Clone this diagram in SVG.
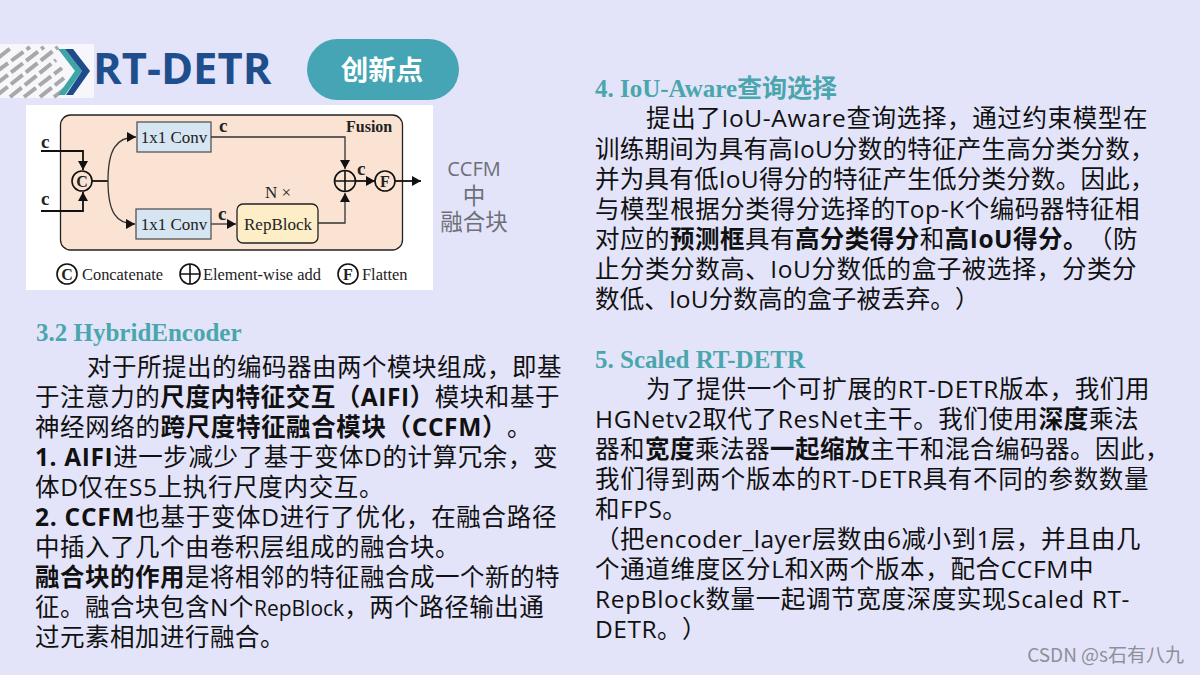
<svg xmlns="http://www.w3.org/2000/svg" width="1200" height="675" viewBox="0 0 1200 675">
<style>
text{text-spacing-trim:space-all}
.b{font-family:"Open Sans","Noto Sans CJK SC",sans-serif;font-size:24.500px;letter-spacing:.5px;fill:#111}
.b tspan{font-weight:700}
.b tspan.sm{font-weight:400;font-size:21px;letter-spacing:0}
.h{font-family:"Liberation Serif","Noto Sans CJK SC",serif;font-size:25px;font-weight:700;fill:#4aa6ad}
.f{font-family:"Liberation Serif",serif;fill:#222;font-size:17px}
.fl{font-family:"Liberation Serif",serif;fill:#222;font-size:16.400px}
.fb{font-family:"Liberation Serif",serif;fill:#222;font-size:16px;font-weight:700}
.c{font-family:"Liberation Serif",serif;fill:#222;font-size:19px;font-weight:700}
.l{fill:none;stroke:#333;stroke-width:1.3}
.t{fill:none;stroke:#111;stroke-width:1.8}
.o{fill:none;stroke:#111;stroke-width:1.6}
.g{font-family:"Liberation Sans","Noto Sans CJK SC",sans-serif;font-size:22.500px;fill:#6d7078;text-anchor:middle}
.s{stroke:#a8a8a8;stroke-width:4;stroke-dasharray:15 4;fill:none}
</style>
<defs>
<marker id="a" markerUnits="userSpaceOnUse" markerWidth="12" markerHeight="12" refX="10" refY="6" orient="auto"><path d="M1 1 10 6 1 11z" fill="#111"/></marker>
</defs>
<rect width="1200" height="675" fill="#e3e4f9"/>
<g id="logo">
<rect x="0" y="44" width="94" height="54" fill="#f6f6fb"/>
<path class="s" d="M-2 58 12 47M-4 72 30 47M-4 84 44 47M-4 96 58 47M10 97 56 60M24 97 62 68M40 97 64 78M54 97 66 88"/>
<path d="M58 49H65L82 71 65 95H58L75 71z" fill="#3da5a6"/>
<path d="M65 49H73L90 71 73 95H66L82 71z" fill="#1f4a8c"/>
</g>
<text id="title" x="93" y="84" font-family="Open Sans,sans-serif" font-size="43.500" font-weight="700" fill="#1f4e8c">RT-DETR</text>
<g id="badge">
<rect x="307" y="39" width="152" height="61" rx="30.5" fill="#45a5b5"/>
<text x="382" y="80" text-anchor="middle" font-family="Noto Sans CJK SC,sans-serif" font-size="27.500" font-weight="700" fill="#fff">创新点</text>
</g>
<g id="figure">
<rect x="26" y="105" width="407" height="185" fill="#fff"/>
<rect x="60.500" y="115" width="342" height="135" rx="10" fill="#fbe3d3" stroke="#222" stroke-width="1.300"/>
<text class="fb" x="346" y="132">Fusion</text>
</g>
<g id="conv1"><rect x="137" y="122" width="74" height="30" fill="#d6e5f2" stroke="#555" stroke-width="1.300"/><text class="f" x="174" y="143" text-anchor="middle">1x1 Conv</text></g>
<g id="conv2"><rect x="136" y="209" width="75" height="30" fill="#d6e5f2" stroke="#555" stroke-width="1.300"/><text class="f" x="174" y="230" text-anchor="middle">1x1 Conv</text></g>
<g id="repblock"><rect x="237" y="204" width="81" height="39" rx="6" fill="#fdeec8" stroke="#222" stroke-width="1.300"/><text class="f" x="278" y="230" text-anchor="middle">RepBlock</text></g>
<g id="concat"><circle cx="82" cy="181" r="10" fill="none" stroke="#111" stroke-width="1.600"/><text class="fb" x="82" y="187" text-anchor="middle">C</text></g>
<g id="add"><circle cx="345" cy="181" r="10.500" class="o"/><path class="o" d="M334.500 181H355.500M345 170.500V191.500"/></g>
<g id="flatten"><circle cx="385" cy="181" r="10" class="o"/><text class="fb" x="385" y="187" text-anchor="middle">F</text></g>
<g id="connectors">
<path class="t" marker-end="url(#a)" d="M41 151H83V170"/>
<path class="t" marker-end="url(#a)" d="M41 211H83V192"/>
<path class="t" d="M92 181H108"/>
<path class="l" marker-end="url(#a)" d="M108 181C108 150 116 137 136 137"/>
<path class="l" marker-end="url(#a)" d="M108 181C108 212 116 224 135 224"/>
<path class="l" marker-end="url(#a)" d="M211 137H345V169"/>
<path class="l" marker-end="url(#a)" d="M211 224H236"/>
<path class="l" marker-end="url(#a)" d="M318 223H345V193"/>
<path class="t" marker-end="url(#a)" d="M356 181H375"/>
<path class="t" marker-end="url(#a)" d="M395 181H421"/>
</g>
<g id="figure-labels">
<text class="c" x="41" y="148">c</text>
<text class="c" x="41" y="205">c</text>
<text class="c" x="219" y="132">c</text>
<text class="c" x="218" y="220">c</text>
<text class="c" x="357" y="175">c</text>
<text class="f" x="265" y="198">N ×</text>
<circle cx="67" cy="274" r="10" class="o"/><text class="fb" x="67" y="280" text-anchor="middle">C</text>
<text class="fl" x="82" y="280">Concatenate</text>
<circle cx="190" cy="274" r="10" class="o"/><path class="o" d="M180 274H200M190 264V284"/>
<text class="fl" x="203" y="280">Element-wise add</text>
<circle cx="348" cy="274" r="10" class="o"/><text class="fb" x="348" y="280" text-anchor="middle">F</text>
<text class="fl" x="362" y="280">Flatten</text>
</g>
<g id="ccfm-note" class="g">
<text x="474" y="176" style="font-size:20px;font-family:'Open Sans',sans-serif">CCFM</text><text x="474" y="204">中</text><text x="474" y="230">融合块</text>
</g>
<g id="left-text">
<text class="h" x="36" y="341">3.2 HybridEncoder</text>
<text class="b" x="87" y="376">对于所提出的编码器由两个模块组成，即基</text>
<text class="b" x="35" y="406" textLength="525">于注意力的<tspan>尺度内特征交互（AIFI）</tspan>模块和基于</text>
<text class="b" x="35" y="436" textLength="497">神经网络的<tspan>跨尺度特征融合模块（CCFM）</tspan>。</text>
<text class="b" x="35" y="466" textLength="523"><tspan>1. AIFI</tspan>进一步减少了基于变体D的计算冗余，变</text>
<text class="b" x="35" y="496" textLength="349">体D仅在S5上执行尺度内交互。</text>
<text class="b" x="35" y="526" textLength="522"><tspan>2. CCFM</tspan>也基于变体D进行了优化，在融合路径</text>
<text class="b" x="35" y="556">中插入了几个由卷积层组成的融合块。</text>
<text class="b" x="35" y="586"><tspan>融合块的作用</tspan>是将相邻的特征融合成一个新的特</text>
<text class="b" x="35" y="616">征。融合块包含N个<tspan class="sm">RepBlock</tspan>，两个路径输出通</text>
<text class="b" x="35" y="646">过元素相加进行融合。</text>
</g>
<g id="right-text">
<text class="h" x="595" y="97">4. IoU-Aware查询选择</text>
<text class="b" x="646" y="127" textLength="502">提出了IoU-Aware查询选择，通过约束模型在</text>
<text class="b" x="595" y="158" textLength="560">训练期间为具有高IoU分数的特征产生高分类分数，</text>
<text class="b" x="595" y="188" textLength="560">并为具有低IoU得分的特征产生低分类分数。因此，</text>
<text class="b" x="595" y="218" textLength="545">与模型根据分类得分选择的Top-K个编码器特征相</text>
<text class="b" x="595" y="248" textLength="543">对应的<tspan>预测框</tspan>具有<tspan>高分类得分</tspan>和<tspan>高IoU得分。</tspan>（防</text>
<text class="b" x="595" y="278" textLength="542">止分类分数高、IoU分数低的盒子被选择，分类分</text>
<text class="b" x="595" y="308" textLength="385">数低、IoU分数高的盒子被丢弃。）</text>
<text class="h" x="595" y="368">5. Scaled RT-DETR</text>
<text class="b" x="646" y="398" textLength="504">为了提供一个可扩展的RT-DETR版本，我们用</text>
<text class="b" x="595" y="428" textLength="544">HGNetv2取代了ResNet主干。我们使用<tspan>深度</tspan>乘法</text>
<text class="b" x="595" y="458">器和<tspan>宽度</tspan>乘法器<tspan>一起缩放</tspan>主干和混合编码器。因此，</text>
<text class="b" x="595" y="488" textLength="554">我们得到两个版本的RT-DETR具有不同的参数数量</text>
<text class="b" x="595" y="518">和FPS。</text>
<text class="b" x="595" y="548" textLength="546">（把encoder_layer层数由6减小到1层，并且由几</text>
<text class="b" x="595" y="578" textLength="499">个通道维度区分L和X两个版本，配合CCFM中</text>
<text class="b" x="595" y="608" textLength="535">RepBlock数量一起调节宽度深度实现Scaled RT-</text>
<text class="b" x="595" y="638">DETR。）</text>
</g>
<text id="watermark" x="1184" y="662" text-anchor="end" font-family="Noto Sans CJK SC,sans-serif" font-size="19" fill="#8f8f9a">CSDN @s石有八九</text>
</svg>
